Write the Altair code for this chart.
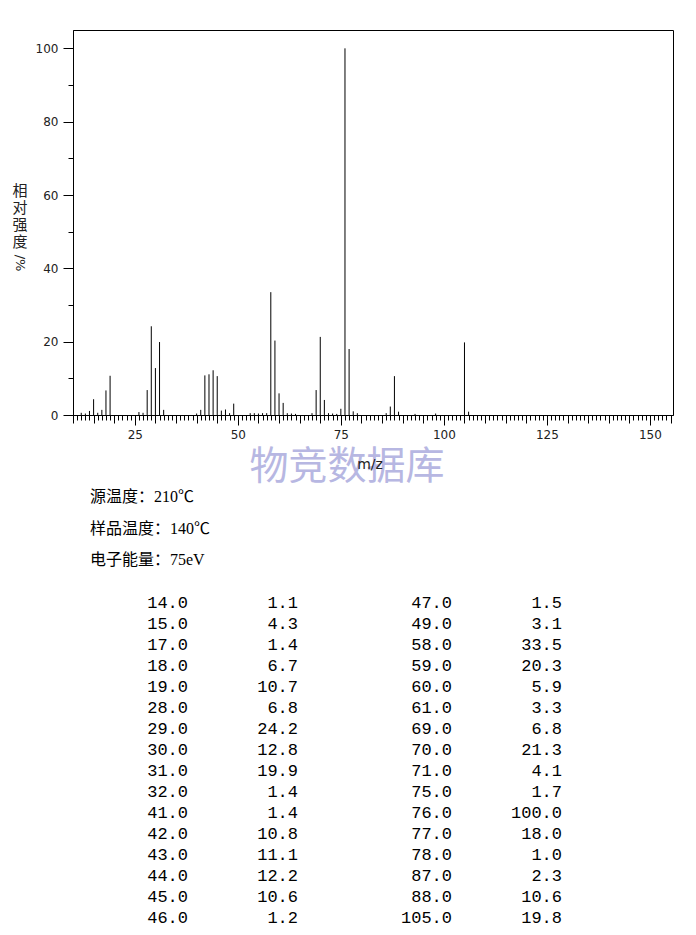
import altair as alt
import pandas as pd

# Peak list from the table (m/z, relative intensity %)
mz_table = [14, 15, 17, 18, 19, 28, 29, 30, 31, 32, 41, 42, 43, 44, 45, 46,
            47, 49, 58, 59, 60, 61, 69, 70, 71, 75, 76, 77, 78, 87, 88, 105]
int_table = [1.1, 4.3, 1.4, 6.7, 10.7, 6.8, 24.2, 12.8, 19.9, 1.4, 1.4, 10.8, 11.1, 12.2, 10.6, 1.2,
             1.5, 3.1, 33.5, 20.3, 5.9, 3.3, 6.8, 21.3, 4.1, 1.7, 100.0, 18.0, 1.0, 2.3, 10.6, 19.8]

# Minor peaks visible in the plot but not listed in the table (estimated)
mz_minor = [12, 13, 16, 26, 27, 40, 48, 53, 54, 55, 56, 57, 62, 63, 64, 68, 72, 73, 74, 79, 86, 89, 93, 98, 106]
int_minor = [0.6, 0.4, 0.6, 0.8, 0.6, 0.4, 0.5, 0.5, 0.5, 0.4, 0.5, 0.5, 0.5, 0.4, 0.3, 0.5, 0.5, 0.4, 0.3, 0.5, 0.5, 0.9, 0.3, 0.4, 0.9]

x_ticks = list(range(10, 156))
y_ticks = list(range(0, 101, 10))

info_lines = ["源温度：210℃", "样品温度：140℃", "电子能量：75eV"]
watermark = "物竞数据库"
y_title_chars = ["相", "对", "强", "度"]
y_title_tail = "/%"
x_title = "m/z"

peaks = pd.DataFrame({"mz": mz_table + mz_minor, "intensity": int_table + int_minor})

half = len(mz_table) // 2
col1 = "\n".join(f"{v:.1f}" for v in mz_table[:half])
col2 = "\n".join(f"{v:.1f}" for v in int_table[:half])
col3 = "\n".join(f"{v:.1f}" for v in mz_table[half:])
col4 = "\n".join(f"{v:.1f}" for v in int_table[half:])

W, H = 600, 385

x_axis = alt.Axis(
    values=x_ticks, title=None, grid=False,
    labelExpr="datum.value % 25 === 0 ? datum.label : ''",
    tickSize={"condition": [{"test": "datum.value % 25 === 0", "value": 10},
                            {"test": "datum.value % 5 === 0", "value": 8}], "value": 5},
    labelFont="DejaVu Sans", labelFontSize=12, labelColor="#222", labelPadding=4,
    domainColor="black", tickColor="black", labelFlush=False, labelOverlap=False,
)
y_axis = alt.Axis(
    values=y_ticks, title=None, grid=False,
    labelExpr="datum.value % 20 === 0 ? datum.label : ''",
    tickSize={"condition": {"test": "datum.value % 20 === 0", "value": 10}, "value": 5},
    labelFont="DejaVu Sans", labelFontSize=12, labelColor="#222", labelPadding=5,
    domainColor="black", tickColor="black", labelOverlap=False,
)

bars = alt.Chart(peaks).mark_rule(color="black", strokeWidth=1).encode(
    x=alt.X("mz:Q", scale=alt.Scale(domain=[10, 155.6], nice=False, zero=False), axis=x_axis),
    y=alt.Y("intensity:Q", scale=alt.Scale(domain=[0, 105], nice=False), axis=y_axis),
    y2=alt.datum(0),
)

def txt(value, x, y, **kw):
    return alt.Chart(alt.Data(values=[{"t": value}])).mark_text(**kw).encode(
        text="t:N", x=alt.value(x), y=alt.value(y))

wm = txt(watermark, 274, 437, font="Noto Sans CJK SC", fontSize=39, color="#b7b7e2",
         align="center", baseline="middle")
xt = txt(x_title, 297, 435, font="DejaVu Sans", fontSize=14, color="#222",
         align="center", baseline="middle")
yt = txt("\n".join(y_title_chars), -53, 161, font="Noto Sans CJK SC", fontSize=15,
         color="#222", align="center", baseline="middle", lineBreak="\n", lineHeight=17)
yt2 = txt(y_title_tail, -53, 233, font="DejaVu Sans", fontSize=13, color="#222",
          align="center", baseline="middle", angle=90)
info = txt("\n".join(info_lines), 17, 467, font="Liberation Serif, Noto Sans CJK SC",
           fontSize=16, color="black", align="left", baseline="middle",
           lineBreak="\n", lineHeight=31.5)

tab_kw = dict(font="Liberation Mono", fontSize=17, color="black", align="right",
              baseline="middle", lineBreak="\n", lineHeight=21)
t1 = txt(col1, 115, 573, **tab_kw)
t2 = txt(col2, 225, 573, **tab_kw)
t3 = txt(col3, 379, 573, **tab_kw)
t4 = txt(col4, 489, 573, **tab_kw)

chart = alt.layer(bars, wm, xt, yt, yt2, info, t1, t2, t3, t4).properties(
    width=W, height=H,
    autosize=alt.AutoSizeParams(type="none"),
    padding={"left": 65, "top": 22, "right": 15, "bottom": 515},
).configure(
    background="white",
    view=alt.ViewConfig(stroke="black", strokeWidth=1),
)

chart.save("out.html", embed_options={"renderer": "svg", "actions": False})
